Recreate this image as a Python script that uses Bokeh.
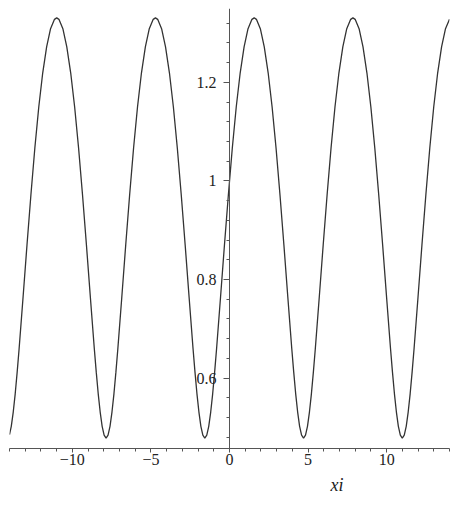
from bokeh.plotting import figure
from bokeh.models import LinearAxis, FixedTicker, CustomJSTickFormatter, Range1d, Title
from bokeh.embed import file_html
from bokeh.resources import INLINE

xi = [-14.0, -13.887, -13.762, -13.637, -13.512, -13.387, -13.137, -12.887, -12.637, -12.387,
      -12.137, -11.887, -11.637, -11.387, -11.137, -10.996,
      -10.854, -10.604, -10.354, -10.104, -9.854, -9.604, -9.354, -9.104, -8.854, -8.604,
      -8.479, -8.354, -8.229, -8.104, -7.979, -7.854,
      -7.729, -7.604, -7.479, -7.354, -7.229, -7.104, -6.854, -6.604, -6.354, -6.104,
      -5.854, -5.604, -5.354, -5.104, -4.854, -4.712,
      -4.571, -4.321, -4.071, -3.821, -3.571, -3.321, -3.071, -2.821, -2.571, -2.321,
      -2.196, -2.071, -1.946, -1.821, -1.696, -1.571,
      -1.446, -1.321, -1.196, -1.071, -0.946, -0.821, -0.571, -0.321, -0.071, 0.179,
      0.429, 0.679, 0.929, 1.179, 1.429, 1.571,
      1.712, 1.962, 2.212, 2.462, 2.712, 2.962, 3.212, 3.462, 3.712, 3.962,
      4.087, 4.212, 4.337, 4.462, 4.587, 4.712,
      4.837, 4.962, 5.087, 5.212, 5.337, 5.462, 5.712, 5.962, 6.212, 6.462,
      6.712, 6.962, 7.212, 7.462, 7.712, 7.854,
      7.996, 8.246, 8.496, 8.746, 8.996, 9.246, 9.496, 9.746, 9.996, 10.246,
      10.371, 10.496, 10.621, 10.746, 10.871, 10.996,
      11.121, 11.246, 11.371, 11.496, 11.621, 11.746, 11.996, 12.246, 12.496, 12.746,
      12.996, 13.246, 13.496, 13.746, 14.0]
u = [0.485, 0.502, 0.531, 0.568, 0.612, 0.660, 0.764, 0.870, 0.972, 1.067,
     1.150, 1.219, 1.272, 1.309, 1.328, 1.331,
     1.328, 1.309, 1.272, 1.219, 1.150, 1.067, 0.972, 0.870, 0.764, 0.660,
     0.612, 0.568, 0.531, 0.502, 0.484, 0.478,
     0.484, 0.502, 0.531, 0.568, 0.612, 0.660, 0.764, 0.870, 0.972, 1.067,
     1.150, 1.219, 1.272, 1.309, 1.328, 1.331,
     1.328, 1.309, 1.272, 1.219, 1.150, 1.067, 0.972, 0.870, 0.764, 0.660,
     0.612, 0.568, 0.531, 0.502, 0.484, 0.478,
     0.484, 0.502, 0.531, 0.568, 0.612, 0.660, 0.764, 0.870, 0.972, 1.067,
     1.150, 1.219, 1.272, 1.309, 1.328, 1.331,
     1.328, 1.309, 1.272, 1.219, 1.150, 1.067, 0.972, 0.870, 0.764, 0.660,
     0.612, 0.568, 0.531, 0.502, 0.484, 0.478,
     0.484, 0.502, 0.531, 0.568, 0.612, 0.660, 0.764, 0.870, 0.972, 1.067,
     1.150, 1.219, 1.272, 1.309, 1.328, 1.331,
     1.328, 1.309, 1.272, 1.219, 1.150, 1.067, 0.972, 0.870, 0.764, 0.660,
     0.612, 0.568, 0.531, 0.502, 0.484, 0.478,
     0.484, 0.502, 0.531, 0.568, 0.612, 0.660, 0.764, 0.870, 0.972, 1.067,
     1.150, 1.219, 1.272, 1.309, 1.328]

x_major = [-10, -5, 0, 5, 10]
x_minor = [-14, -13, -12, -11, -10, -9, -8, -7, -6, -5, -4, -3, -2, -1, 0,
           1, 2, 3, 4, 5, 6, 7, 8, 9, 10, 11, 12, 13, 14]
y_major = [0.6, 0.8, 1.0, 1.2]
y_minor = [0.48, 0.52, 0.56, 0.60, 0.64, 0.68, 0.72, 0.76, 0.80, 0.84, 0.88,
           0.92, 0.96, 1.00, 1.04, 1.08, 1.12, 1.16, 1.20, 1.24, 1.28, 1.32]
x_label = "xi"

FONT = "Liberation Serif"
AXIS_COLOR = "#555555"
TEXT_COLOR = "#222222"

p = figure(frame_width=440, frame_height=440,
           x_range=Range1d(-14, 14), y_range=Range1d(0.457, 1.35),
           output_backend="svg", toolbar_location=None,
           y_axis_location=None,
           min_border_left=9, min_border_right=9, min_border_top=8,
           min_border_bottom=50)
p.outline_line_color = None
p.grid.visible = False
p.background_fill_color = "white"
p.border_fill_color = "white"

fmt = CustomJSTickFormatter(code="""
var v = Math.round(tick*100)/100;
return v.toString().replace('-', '\u2212');
""")

xa = p.xaxis[0]
xa.ticker = FixedTicker(ticks=x_major, minor_ticks=x_minor)
xa.formatter = fmt
xa.axis_line_color = AXIS_COLOR
xa.major_tick_line_color = AXIS_COLOR
xa.minor_tick_line_color = AXIS_COLOR
xa.major_tick_in = 0
xa.major_tick_out = 4
xa.minor_tick_in = 0
xa.minor_tick_out = 3
xa.major_label_standoff = 1
xa.major_label_text_font = FONT
xa.major_label_text_font_size = "16px"
xa.major_label_text_color = TEXT_COLOR

ya = LinearAxis(fixed_location=0)
ya.ticker = FixedTicker(ticks=y_major, minor_ticks=y_minor)
ya.formatter = fmt
ya.axis_line_color = AXIS_COLOR
ya.major_tick_line_color = AXIS_COLOR
ya.minor_tick_line_color = AXIS_COLOR
ya.major_tick_in = 0
ya.major_tick_out = 6
ya.minor_tick_in = 0
ya.minor_tick_out = 3
ya.major_label_standoff = 7
ya.major_label_text_font = FONT
ya.major_label_text_font_size = "16px"
ya.major_label_text_color = TEXT_COLOR
p.add_layout(ya, "left")

p.line(xi, u, line_color="#333333", line_width=1.3)

ttl = Title(text=x_label, align="left", offset=321, text_font=FONT,
            text_font_size="18px", text_font_style="italic",
            text_color=TEXT_COLOR)
p.add_layout(ttl, "below")

open("out.html", "w").write(file_html(p, INLINE))
